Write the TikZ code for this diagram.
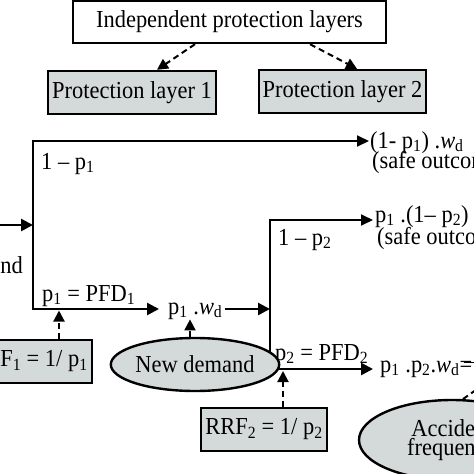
\documentclass[tikz,border=0pt]{standalone}
\usepackage{fontspec}
\setmainfont{Liberation Serif}[FakeStretch=0.92]
\usetikzlibrary{arrows.meta,shapes.geometric}
\definecolor{boxgray}{RGB}{212,217,217}
\begin{document}
\begin{tikzpicture}[x=1pt,y=-1pt,
  font=\fontsize{24.4}{19.5}\selectfont,
  box/.style={draw, line width=2.4pt, fill=boxgray, inner sep=0pt, minimum height=43pt},
  oval/.style={ellipse, draw, line width=2.4pt, fill=boxgray, inner sep=0pt},
  lbl/.style={inner sep=0pt, anchor=base west},
  flow/.style={line width=2.6pt, -{Triangle[length=12pt,width=12pt]}},
  thinflow/.style={line width=2pt, -{Triangle[length=12pt,width=11pt]}},
  dashline/.style={line width=2pt, dash pattern=on 6pt off 4pt},
  dasharrow/.style={dashline, -{Triangle[length=11pt,width=11pt]}},
]
\useasboundingbox (0,0) rectangle (474,474);
\fill[white] (0,0) rectangle (474,474);
\clip (0,0) rectangle (474,474);

% top hierarchy
\node[box, fill=white, minimum width=313pt, minimum height=42pt] (ipl) at (229.5,22) {Independent protection layers};
\node[box, minimum width=168pt] (pl1) at (132,92.5) {Protection layer 1};
\node[box, minimum width=167pt] (pl2) at (342.5,91.5) {Protection layer 2};
\draw[dasharrow] ([xshift=-34.5pt]ipl.south) -- ([xshift=25pt]pl1.north);
\draw[dasharrow] ([xshift=80.5pt]ipl.south) -- ([xshift=14.5pt]pl2.north);

% branch points
\coordinate (start) at (-10,225);
\coordinate (v1in) at (33,225);
\coordinate (v1t) at (33,141);
\coordinate (v1b) at (33,309);
\coordinate (v2t) at (270,220);
\coordinate (v2b) at (270,369);

% texts
\node[inner sep=0pt, anchor=base east] (dem) at (23,273) {Demand};
\node[lbl] (q1) at (41,169) {1 – p\textsubscript{1}};
\node[lbl] (f1) at (42,301) {p\textsubscript{1} = PFD\textsubscript{1}};
\node[lbl] (q2) at (278,245) {1 – p\textsubscript{2}};
\node[lbl] (f2) at (275,360) {p\textsubscript{2} = PFD\textsubscript{2}};
\node[lbl] (pw) at (168,314) {p\textsubscript{1} .\textit{w}\textsubscript{d}};
\node[lbl] (o1) at (370,148) {(1- p\textsubscript{1}) .\textit{w}\textsubscript{d}};
\node[lbl] (o1s) at (372,168) {(safe outcome)};
\node[lbl] (o2) at (375,222) {p\textsubscript{1} .(1– p\textsubscript{2})};
\node[lbl] (o2s) at (377,244) {(safe outcome)};
\node[lbl] (o3) at (380,372) {p\textsubscript{1} .p\textsubscript{2}.\textit{w}\textsubscript{d}=\kern-8pt\rule[8.8pt]{40pt}{1.1pt}};

% tree connectors
\draw[flow] (start) -- (v1in);
\draw[thinflow, shorten >=1pt] (v1b) -- (v1t) -- (v1t -| o1.west);
\draw[flow, shorten >=9pt] (v1t) -- (v1b) -- (v1b -| pw.west);
\draw[flow, shorten <=2pt] (v1b -| pw.east) -- (v1b -| v2t);
\draw[thinflow, shorten >=2pt] (v2b) -- (v2t) -- (v2t -| o2.west);
\draw[flow, shorten >=7pt] (v2t) -- (v2b) -- (v2b -| o3.west);

% factor boxes and ovals
\node[box, minimum width=126pt] (rrf1) at (29,361.5) {RRF\textsubscript{1} = 1/ p\textsubscript{1}};
\node[oval, minimum width=140pt, minimum height=53pt] (nd) at (195,364.5) {New demand};
\node[box, minimum width=126pt] (rrf2) at (264,429.5) {RRF\textsubscript{2} = 1/ p\textsubscript{2}};
\node[oval, minimum width=186pt, minimum height=80pt, align=center] (acc) at (452,440) {Accident\\frequency};

\coordinate (a1) at ([xshift=30pt]rrf1.north);
\coordinate (a2) at ([xshift=-5pt]nd.north);
\coordinate (a3) at ([xshift=19pt]rrf2.north);
\coordinate (accout) at (490,380);
\draw[dasharrow, shorten >=1.5pt] (a1) -- (a1 |- v1b);
\draw[dasharrow] (a2) -- (a2 |- pw.south);
\draw[dasharrow, shorten >=2pt] (a3) -- (a3 |- v2b);
\draw[dashline] (acc.75) -- (accout);
\end{tikzpicture}
\end{document}
